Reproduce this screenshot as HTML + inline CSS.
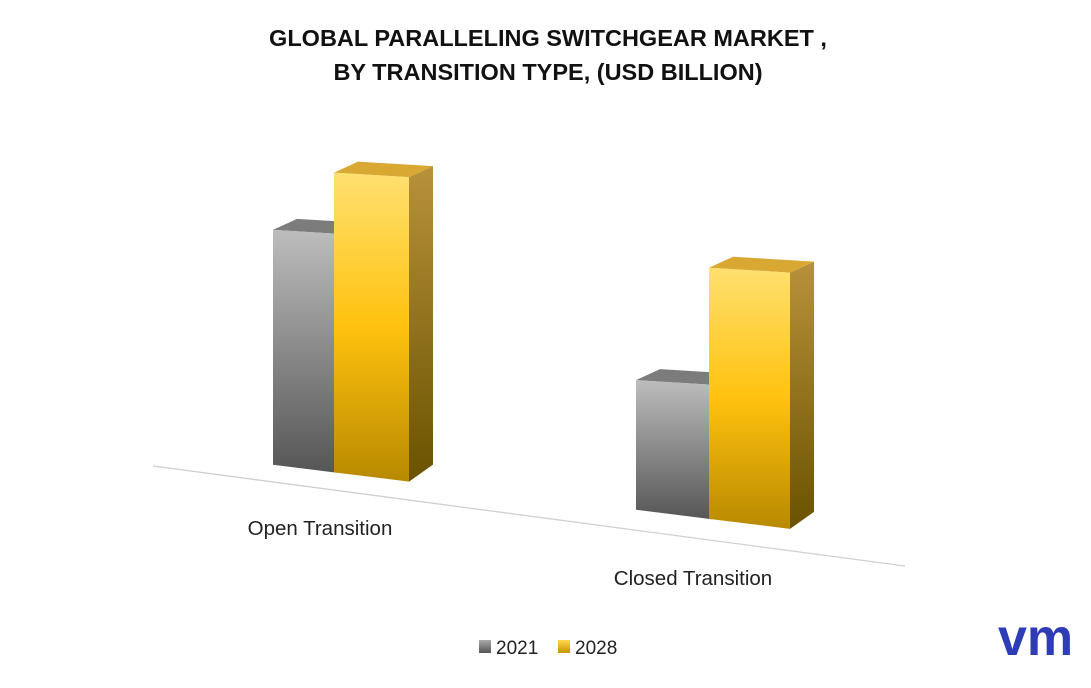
<!DOCTYPE html>
<html><head><meta charset="utf-8"><style>
html,body{margin:0;padding:0;background:#fff;}
body{width:1091px;height:683px;overflow:hidden;font-family:"Liberation Sans",sans-serif;}
</style></head><body>
<svg id="chart" width="1091" height="683" viewBox="0 0 1091 683" xmlns="http://www.w3.org/2000/svg">
<defs>
<linearGradient id="gFront" x1="0" y1="0" x2="0" y2="1"><stop offset="0" stop-color="#bdbdbd"/><stop offset="1" stop-color="#565656"/></linearGradient>
<linearGradient id="yFront" x1="0" y1="0" x2="0" y2="1"><stop offset="0" stop-color="#ffe070"/><stop offset="0.5" stop-color="#ffc20e"/><stop offset="1" stop-color="#b88900"/></linearGradient>
<linearGradient id="ySide" x1="0" y1="0" x2="0" y2="1"><stop offset="0" stop-color="#b8923a"/><stop offset="1" stop-color="#6a5200"/></linearGradient>
<linearGradient id="gSide" x1="0" y1="0" x2="0" y2="1"><stop offset="0" stop-color="#8a8a8a"/><stop offset="1" stop-color="#444"/></linearGradient>
<linearGradient id="gLeg" x1="0" y1="0" x2="0" y2="1"><stop offset="0" stop-color="#aaa"/><stop offset="1" stop-color="#555"/></linearGradient>
<linearGradient id="yLeg" x1="0" y1="0" x2="0" y2="1"><stop offset="0" stop-color="#ffd84a"/><stop offset="1" stop-color="#c89400"/></linearGradient>
</defs>
<text x="548" y="46" text-anchor="middle" font-size="23.5" font-weight="bold" fill="#111">GLOBAL PARALLELING SWITCHGEAR MARKET ,</text>
<text x="548" y="80" text-anchor="middle" font-size="23.5" font-weight="bold" fill="#111">BY TRANSITION TYPE, (USD BILLION)</text>
<line x1="153" y1="466" x2="905" y2="566" stroke="#d0d0d0" stroke-width="1.3"/>
<g id="bars"></g>
<g id="labels"></g>
<g>
<rect x="479" y="640" width="12" height="13" fill="url(#gLeg)"/>
<text x="496" y="654" font-size="19" fill="#222">2021</text>
<rect x="558" y="640" width="12" height="13" fill="url(#yLeg)"/>
<text x="575" y="654" font-size="19" fill="#222">2028</text>
</g>
<text x="998" y="655" font-size="52" font-weight="bold" fill="#2f3cb8">vm</text>
</svg>
<script>
const categories = ["Open Transition", "Closed Transition"];
const values2021 = [2.9, 1.6];
const values2028 = [3.7, 3.1];
const scale = 81;
const ns = "http://www.w3.org/2000/svg";
const barsG = document.getElementById('bars');
const labG = document.getElementById('labels');
function bottomY(x){ return 466 + (x - 283) * 0.124; }
function catX(i){ return 273 + i * 363; }
function poly(pts, fill, name){
  const p = document.createElementNS(ns,'polygon');
  p.setAttribute('points', pts.map(q=>q.join(',')).join(' '));
  p.setAttribute('fill', fill);
  
  
  barsG.appendChild(p);
}
function bar(x0, w, v, front, side, top, name){
  const h = v * scale;
  const x1 = x0 + w;
  const b0 = bottomY(x0), b1 = bottomY(x1);
  const t0 = b0 - h, t1 = t0 + w * 0.06;
  const dx = 24, dy = -11;
  poly([[x1,t1],[x1+dx,t1+dy],[x1+dx,b1+dy-6],[x1,b1]], side, name + '-side');
  poly([[x0,t0],[x0+dx,t0+dy],[x1+dx,t1+dy],[x1,t1]], top, name + '-top');
  poly([[x0,t0],[x1,t1],[x1,b1],[x0,b0]], front, name + '-front');
}
categories.forEach((c,i)=>{
  const x = catX(i);
  const gw = 64 + i * 12;
  const yw = 75 + i * 6;
  bar(x, gw, values2021[i], 'url(#gFront)', 'url(#gSide)', '#7c7c7c', 'bar-2021-' + i);
  bar(x + gw - 3, yw, values2028[i], 'url(#yFront)', 'url(#ySide)', '#d8a832', 'bar-2028-' + i);
  const t = document.createElementNS(ns,'text');
  t.setAttribute('x', 320 + i * 373);
  t.setAttribute('y', 535 + i * 50);
  t.setAttribute('text-anchor','middle');
  t.setAttribute('font-size','20.5');
  t.setAttribute('fill','#222');
  t.textContent = c;
  
  
  labG.appendChild(t);
});
</script>
</body></html>
